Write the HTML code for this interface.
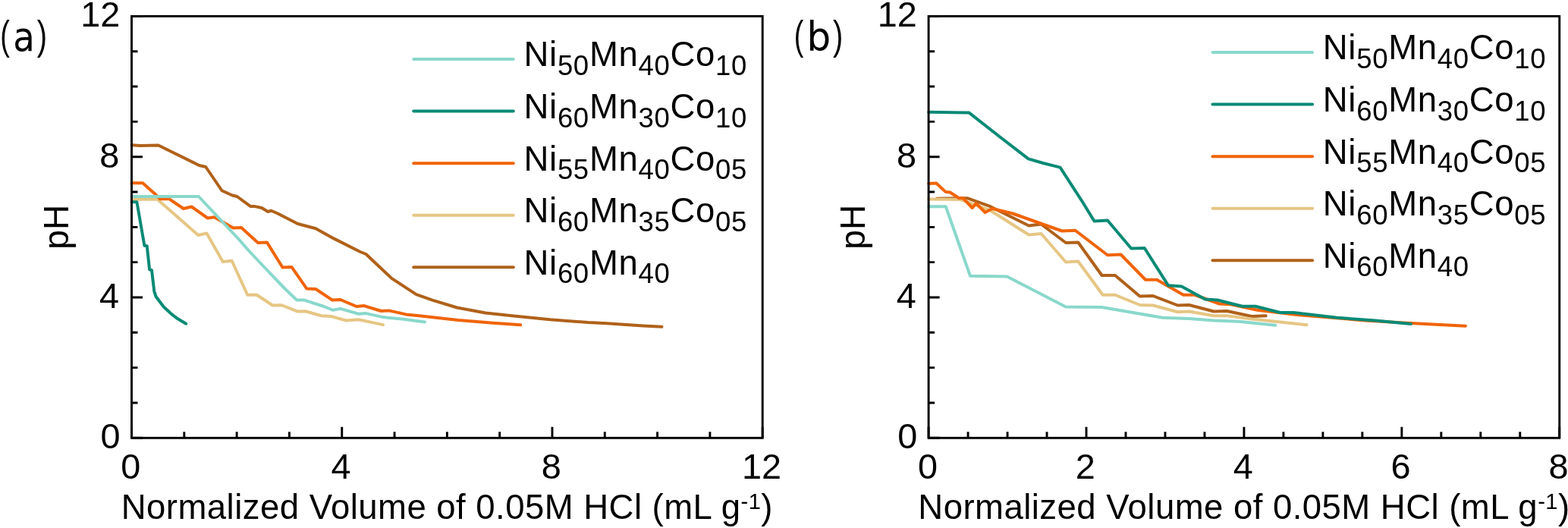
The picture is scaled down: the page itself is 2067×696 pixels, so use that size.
<!DOCTYPE html>
<html><head><meta charset="utf-8"><title>Titration curves</title>
<style>
html,body{margin:0;padding:0;background:#fff;}
body{width:2067px;height:696px;overflow:hidden;}
svg{display:block;}
</style></head>
<body>
<svg width="2067" height="696" viewBox="0 0 2067 696">
<rect x="0" y="0" width="2067" height="696" fill="#fff"/>
<polyline points="173.6,191.25 185,192 208.75,191.5 262.5,218 271.25,220 292.5,251.25 306.25,257.5 312.5,259 330,271.9 335,271.9 345,274 353.1,279 357.5,277.75 366.25,281.5 392.5,295 416.25,301.25 440,314.4 475,332 482.5,335 516.25,366.9 548.75,388.1 570,395.6 602.5,405.5 640,412.5 675,416.25 725,421.25 775,425 800,426.25 848,429.5 872.5,430.75" fill="none" stroke="#B0611A" stroke-width="4" stroke-linejoin="round" stroke-linecap="round"/>
<polyline points="173.6,262.75 207.5,262.75 261.25,310 272.5,307.5 293.75,345 305.6,343.75 326.25,388.75 338.1,388.5 359.4,402.5 371.25,402.25 392.5,410.6 402.5,410.25 423.75,416.25 436.25,416.9 456.25,422.5 472.5,421.25 505,428.1" fill="none" stroke="#E6C684" stroke-width="4" stroke-linejoin="round" stroke-linecap="round"/>
<polyline points="173.6,241.25 188.1,241.25 205,256.25 211.25,262.25 222.5,261.9 241.9,275 252.5,272.5 273.75,287.5 282.5,286.25 307.5,300.6 318.1,300 340,320 351.9,319.4 372.5,352.5 384.4,351.9 404.4,380.6 416.25,381 438.1,395.6 448.75,395 470,404 480,403.1 502.5,410 512.5,409.4 535,414.4 555,416.5 604,421.9 650,425.75 686.25,428.25" fill="none" stroke="#F06406" stroke-width="4" stroke-linejoin="round" stroke-linecap="round"/>
<polyline points="173.6,266.25 180.4,266.25 190.4,323.75 193.75,324.2 197.1,355.4 200,356.25 203.3,384.1 205.6,391 216,404.8 227.5,415.2 234.4,420.3 245.3,426.7" fill="none" stroke="#0A8A75" stroke-width="4" stroke-linejoin="round" stroke-linecap="round"/>
<polyline points="173.6,259 261.9,259 316.25,317 327.5,330 347.5,351.25 375,380 391.25,395.6 401.25,395.6 426.25,403.75 438.75,408.75 448.75,406.9 472.5,413.75 482.5,413.1 505,418.1 530,420.6 560,424.6" fill="none" stroke="#89D8CB" stroke-width="4" stroke-linejoin="round" stroke-linecap="round"/>
<rect x="173.5" y="21.4" width="831.7" height="555.9" fill="none" stroke="#000" stroke-width="2.9"/>
<path d="M173.5 577.3h14.5 M173.5 530.97h8 M173.5 484.65h8 M173.5 438.32h8 M173.5 392h14.5 M173.5 345.67h8 M173.5 299.35h8 M173.5 253.02h8 M173.5 206.7h14.5 M173.5 160.38h8 M173.5 114.05h8 M173.5 67.72h8 M173.5 21.4h14.5 M173.5 577.3v-14.5 M242.81 577.3v-8 M312.12 577.3v-8 M381.43 577.3v-8 M450.73 577.3v-14.5 M520.04 577.3v-8 M589.35 577.3v-8 M658.66 577.3v-8 M727.97 577.3v-14.5 M797.28 577.3v-8 M866.58 577.3v-8 M935.89 577.3v-8 M1005.2 577.3v-14.5" stroke="#000" stroke-width="2.9" fill="none"/>
<text x="158.6" y="591.2" text-anchor="end" font-size="46.8" font-family="'Liberation Sans', Arial, sans-serif">0</text>
<text x="157.1" y="405.9" text-anchor="end" font-size="46.8" font-family="'Liberation Sans', Arial, sans-serif">4</text>
<text x="157.4" y="220.6" text-anchor="end" font-size="46.8" font-family="'Liberation Sans', Arial, sans-serif">8</text>
<text x="158.3" y="35.3" text-anchor="end" font-size="46.8" font-family="'Liberation Sans', Arial, sans-serif">12</text>
<text x="172.3" y="631.3" text-anchor="middle" font-size="46.8" font-family="'Liberation Sans', Arial, sans-serif">0</text>
<text x="449.53" y="631.3" text-anchor="middle" font-size="46.8" font-family="'Liberation Sans', Arial, sans-serif">4</text>
<text x="726.77" y="631.3" text-anchor="middle" font-size="46.8" font-family="'Liberation Sans', Arial, sans-serif">8</text>
<text x="1004" y="631.3" text-anchor="middle" font-size="46.8" font-family="'Liberation Sans', Arial, sans-serif">12</text>
<text x="589.35" y="684.2" text-anchor="middle" font-size="45.5" letter-spacing="0.47" font-family="'Liberation Sans', Arial, sans-serif">Normalized Volume of 0.05M HCl (mL g<tspan font-size="29" dy="-13">-1</tspan><tspan dy="13">)</tspan></text>
<text x="0" y="0" text-anchor="middle" font-size="46" font-family="'Liberation Sans', Arial, sans-serif" transform="translate(89.5,299.3) rotate(-90)">pH</text>
<text transform="translate(0.27,65.3) scale(0.7,1)" font-size="54" font-family="'Liberation Sans', Arial, sans-serif">(</text>
<text transform="translate(17.32,67) scale(0.87,1)" font-size="53.7" font-family="'DejaVu Sans', 'Liberation Sans', sans-serif">a</text>
<text transform="translate(48.76,65.3) scale(0.74,1)" font-size="54" font-family="'Liberation Sans', Arial, sans-serif">)</text>
<line x1="545.2" y1="78.05" x2="676.8" y2="78.05" stroke="#89D8CB" stroke-width="4" stroke-linecap="round"/>
<text x="690.5" y="87.45" font-size="45.5" letter-spacing="0.7" font-family="'Liberation Sans', Arial, sans-serif"><tspan y="87.45">Ni</tspan><tspan font-size="36.5" y="99.05">50</tspan><tspan y="87.45">Mn</tspan><tspan font-size="36.5" y="99.05">40</tspan><tspan y="87.45">Co</tspan><tspan font-size="36.5" y="99.05">10</tspan></text>
<line x1="545.2" y1="146.6" x2="676.8" y2="146.6" stroke="#0A8A75" stroke-width="4" stroke-linecap="round"/>
<text x="690.5" y="156" font-size="45.5" letter-spacing="0.7" font-family="'Liberation Sans', Arial, sans-serif"><tspan y="156">Ni</tspan><tspan font-size="36.5" y="167.6">60</tspan><tspan y="156">Mn</tspan><tspan font-size="36.5" y="167.6">30</tspan><tspan y="156">Co</tspan><tspan font-size="36.5" y="167.6">10</tspan></text>
<line x1="545.2" y1="215.15" x2="676.8" y2="215.15" stroke="#F06406" stroke-width="4" stroke-linecap="round"/>
<text x="690.5" y="224.55" font-size="45.5" letter-spacing="0.7" font-family="'Liberation Sans', Arial, sans-serif"><tspan y="224.55">Ni</tspan><tspan font-size="36.5" y="236.15">55</tspan><tspan y="224.55">Mn</tspan><tspan font-size="36.5" y="236.15">40</tspan><tspan y="224.55">Co</tspan><tspan font-size="36.5" y="236.15">05</tspan></text>
<line x1="545.2" y1="283.7" x2="676.8" y2="283.7" stroke="#E6C684" stroke-width="4" stroke-linecap="round"/>
<text x="690.5" y="293.1" font-size="45.5" letter-spacing="0.7" font-family="'Liberation Sans', Arial, sans-serif"><tspan y="293.1">Ni</tspan><tspan font-size="36.5" y="304.7">60</tspan><tspan y="293.1">Mn</tspan><tspan font-size="36.5" y="304.7">35</tspan><tspan y="293.1">Co</tspan><tspan font-size="36.5" y="304.7">05</tspan></text>
<line x1="545.2" y1="352.25" x2="676.8" y2="352.25" stroke="#B0611A" stroke-width="4" stroke-linecap="round"/>
<text x="690.5" y="361.65" font-size="45.5" letter-spacing="0.7" font-family="'Liberation Sans', Arial, sans-serif"><tspan y="361.65">Ni</tspan><tspan font-size="36.5" y="373.25">60</tspan><tspan y="361.65">Mn</tspan><tspan font-size="36.5" y="373.25">40</tspan></text>
<polyline points="1235,261.8 1275,261.2 1305.5,272.2 1356.25,297.5 1372.5,295.5 1405,320 1421.25,319.5 1452.5,363 1470,363 1502.5,390.5 1520,390 1552.5,402.5 1567.5,402 1600,410.5 1617.5,410 1650,417 1668.75,416.25" fill="none" stroke="#B0611A" stroke-width="4" stroke-linejoin="round" stroke-linecap="round"/>
<polyline points="1224.2,262.6 1266,263 1305.5,277.5 1356.25,309.5 1372.5,308 1405,345.5 1421.25,344.5 1453.75,388.75 1470,388.75 1502.5,402 1520,402.5 1552.5,411.25 1567.5,410.5 1600,416.25 1617.5,416.25 1650,420.5 1722.5,428.25" fill="none" stroke="#E6C684" stroke-width="4" stroke-linejoin="round" stroke-linecap="round"/>
<polyline points="1224.2,241.9 1234.25,241.5 1246.75,253.1 1252.4,253.5 1264.25,261.25 1269.25,261 1281.75,274 1286.75,268.1 1298.6,280 1308,275 1334.25,281.25 1400,304.5 1417.5,303.75 1460,336.25 1477.5,335.5 1510,368.75 1525,368.75 1560,388.75 1575,388.75 1607.5,400.5 1622.5,401.25 1657.5,408.75 1710,415 1800,422.5 1850,425.5 1931.9,429.75" fill="none" stroke="#F06406" stroke-width="4" stroke-linejoin="round" stroke-linecap="round"/>
<polyline points="1224.2,147.8 1277.5,148.6 1317.5,180 1355.6,209.4 1375,215 1397.5,220.6 1427.5,267 1442.5,291.5 1460,290.5 1491.25,327.5 1508.75,327 1540,376.25 1557.5,377.5 1588.75,394.5 1605,395.5 1637.5,403.75 1655,403.75 1687.5,412 1705,412 1762.5,418.75 1812.5,422.5 1860,427" fill="none" stroke="#0A8A75" stroke-width="4" stroke-linejoin="round" stroke-linecap="round"/>
<polyline points="1224.2,272.25 1246.75,272.25 1279,363.75 1327.5,364.5 1405,404.5 1452.5,405 1532.5,418.75 1568,420 1600,422.5 1632.5,423.75 1681.25,428.75" fill="none" stroke="#89D8CB" stroke-width="4" stroke-linejoin="round" stroke-linecap="round"/>
<rect x="1224.1" y="21.4" width="831.65" height="555.9" fill="none" stroke="#000" stroke-width="2.9"/>
<path d="M1224.1 577.3h14.5 M1224.1 530.97h8 M1224.1 484.65h8 M1224.1 438.32h8 M1224.1 392h14.5 M1224.1 345.67h8 M1224.1 299.35h8 M1224.1 253.02h8 M1224.1 206.7h14.5 M1224.1 160.38h8 M1224.1 114.05h8 M1224.1 67.72h8 M1224.1 21.4h14.5 M1224.1 577.3v-14.5 M1276.08 577.3v-8 M1328.06 577.3v-8 M1380.03 577.3v-8 M1432.01 577.3v-14.5 M1483.99 577.3v-8 M1535.97 577.3v-8 M1587.95 577.3v-8 M1639.92 577.3v-14.5 M1691.9 577.3v-8 M1743.88 577.3v-8 M1795.86 577.3v-8 M1847.84 577.3v-14.5 M1899.82 577.3v-8 M1951.79 577.3v-8 M2003.77 577.3v-8 M2055.75 577.3v-14.5" stroke="#000" stroke-width="2.9" fill="none"/>
<text x="1209.2" y="591.2" text-anchor="end" font-size="46.8" font-family="'Liberation Sans', Arial, sans-serif">0</text>
<text x="1207.7" y="405.9" text-anchor="end" font-size="46.8" font-family="'Liberation Sans', Arial, sans-serif">4</text>
<text x="1208" y="220.6" text-anchor="end" font-size="46.8" font-family="'Liberation Sans', Arial, sans-serif">8</text>
<text x="1208.9" y="35.3" text-anchor="end" font-size="46.8" font-family="'Liberation Sans', Arial, sans-serif">12</text>
<text x="1222.9" y="631.3" text-anchor="middle" font-size="46.8" font-family="'Liberation Sans', Arial, sans-serif">0</text>
<text x="1430.81" y="631.3" text-anchor="middle" font-size="46.8" font-family="'Liberation Sans', Arial, sans-serif">2</text>
<text x="1638.72" y="631.3" text-anchor="middle" font-size="46.8" font-family="'Liberation Sans', Arial, sans-serif">4</text>
<text x="1846.64" y="631.3" text-anchor="middle" font-size="46.8" font-family="'Liberation Sans', Arial, sans-serif">6</text>
<text x="2054.55" y="631.3" text-anchor="middle" font-size="46.8" font-family="'Liberation Sans', Arial, sans-serif">8</text>
<text x="1639.92" y="684.2" text-anchor="middle" font-size="45.5" letter-spacing="0.47" font-family="'Liberation Sans', Arial, sans-serif">Normalized Volume of 0.05M HCl (mL g<tspan font-size="29" dy="-13">-1</tspan><tspan dy="13">)</tspan></text>
<text x="0" y="0" text-anchor="middle" font-size="46" font-family="'Liberation Sans', Arial, sans-serif" transform="translate(1140.1,299.3) rotate(-90)">pH</text>
<text transform="translate(1046.87,65.3) scale(0.7,1)" font-size="54" font-family="'Liberation Sans', Arial, sans-serif">(</text>
<text transform="translate(1063.48,67) scale(0.93,1)" font-size="53.7" font-family="'DejaVu Sans', 'Liberation Sans', sans-serif">b</text>
<text transform="translate(1098.06,65.3) scale(0.74,1)" font-size="54" font-family="'Liberation Sans', Arial, sans-serif">)</text>
<line x1="1598.5" y1="69.05" x2="1730.1" y2="69.05" stroke="#89D8CB" stroke-width="4" stroke-linecap="round"/>
<text x="1743.8" y="78.45" font-size="45.5" letter-spacing="0.7" font-family="'Liberation Sans', Arial, sans-serif"><tspan y="78.45">Ni</tspan><tspan font-size="36.5" y="90.05">50</tspan><tspan y="78.45">Mn</tspan><tspan font-size="36.5" y="90.05">40</tspan><tspan y="78.45">Co</tspan><tspan font-size="36.5" y="90.05">10</tspan></text>
<line x1="1598.5" y1="137.6" x2="1730.1" y2="137.6" stroke="#0A8A75" stroke-width="4" stroke-linecap="round"/>
<text x="1743.8" y="147" font-size="45.5" letter-spacing="0.7" font-family="'Liberation Sans', Arial, sans-serif"><tspan y="147">Ni</tspan><tspan font-size="36.5" y="158.6">60</tspan><tspan y="147">Mn</tspan><tspan font-size="36.5" y="158.6">30</tspan><tspan y="147">Co</tspan><tspan font-size="36.5" y="158.6">10</tspan></text>
<line x1="1598.5" y1="206.15" x2="1730.1" y2="206.15" stroke="#F06406" stroke-width="4" stroke-linecap="round"/>
<text x="1743.8" y="215.55" font-size="45.5" letter-spacing="0.7" font-family="'Liberation Sans', Arial, sans-serif"><tspan y="215.55">Ni</tspan><tspan font-size="36.5" y="227.15">55</tspan><tspan y="215.55">Mn</tspan><tspan font-size="36.5" y="227.15">40</tspan><tspan y="215.55">Co</tspan><tspan font-size="36.5" y="227.15">05</tspan></text>
<line x1="1598.5" y1="274.7" x2="1730.1" y2="274.7" stroke="#E6C684" stroke-width="4" stroke-linecap="round"/>
<text x="1743.8" y="284.1" font-size="45.5" letter-spacing="0.7" font-family="'Liberation Sans', Arial, sans-serif"><tspan y="284.1">Ni</tspan><tspan font-size="36.5" y="295.7">60</tspan><tspan y="284.1">Mn</tspan><tspan font-size="36.5" y="295.7">35</tspan><tspan y="284.1">Co</tspan><tspan font-size="36.5" y="295.7">05</tspan></text>
<line x1="1598.5" y1="343.25" x2="1730.1" y2="343.25" stroke="#B0611A" stroke-width="4" stroke-linecap="round"/>
<text x="1743.8" y="352.65" font-size="45.5" letter-spacing="0.7" font-family="'Liberation Sans', Arial, sans-serif"><tspan y="352.65">Ni</tspan><tspan font-size="36.5" y="364.25">60</tspan><tspan y="352.65">Mn</tspan><tspan font-size="36.5" y="364.25">40</tspan></text>
</svg>
</body></html>
